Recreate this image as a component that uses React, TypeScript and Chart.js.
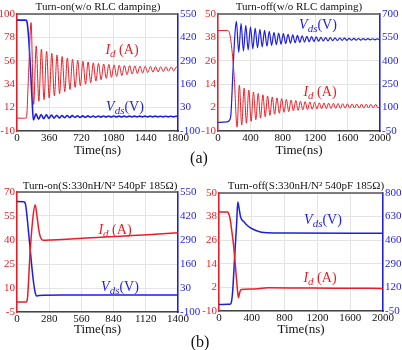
import React, { useEffect, useRef } from "react";
import { Chart, registerables } from "chart.js";

Chart.register(...registerables);

const RED = "rgb(232, 30, 38)";
const BLUE = "rgb(30, 30, 225)";
const SERIF = '"Liberation Serif", "Times New Roman", serif';

// ---------- (a) Turn-on, w/o RLC damping ----------
const onIdTime = [0, 60, 105, 130, 157, 186, 215, 244, 273, 302, 331, 360, 389, 418, 447, 476, 505, 534, 563, 592, 621, 650, 679, 708, 737, 766, 795, 824, 853, 882, 911, 940, 969, 998, 1027, 1056, 1085, 1114, 1143, 1172, 1201, 1230, 1259, 1288, 1317, 1346, 1375, 1404, 1433, 1462, 1491, 1520, 1549, 1578, 1607, 1636, 1665, 1694, 1723, 1752, 1781, 1800];
const onIdAmp = [2.2, 2.0, 2.2, 45, 92, 15, 70, 18, 67, 19.5, 65, 21, 63, 23, 61.5, 25, 60, 27, 58.7, 29, 57.5, 31, 56.5, 32.5, 55.6, 34, 54.8, 35.5, 54.1, 37, 53.5, 38.3, 53, 39.5, 52.6, 40.5, 52.2, 41.4, 51.9, 42.2, 51.6, 42.9, 51.4, 43.5, 51.2, 44, 51, 44.5, 50.8, 44.9, 50.7, 45.3, 50.6, 45.6, 50.5, 45.9, 50.4, 46.2, 50.3, 46.4, 50.2, 48];
const onVdsTime = [0, 100, 110, 130, 150, 170, 183, 212, 241, 270, 299, 328, 357, 386, 415, 444, 473, 502, 531, 560, 589, 618, 647, 676, 705, 734, 763, 792, 821, 850, 879, 908, 937, 966, 995, 1024, 1053, 1082, 1111, 1140, 1169, 1198, 1227, 1256, 1285, 1314, 1343, 1372, 1401, 1430, 1459, 1488, 1517, 1546, 1575, 1604, 1633, 1662, 1691, 1720, 1749, 1778, 1800];
const onVdsVolt = [516, 516, 510, 420, 250, 60, -39, -5, -35, -8, -32, -10, -30, -11.5, -28.5, -12.5, -27.3, -13.5, -26.3, -14.2, -25.5, -14.8, -24.8, -15.3, -24.2, -15.7, -23.7, -16, -23.3, -16.3, -23, -16.5, -22.7, -16.7, -22.5, -16.9, -22.3, -17, -22.1, -17.1, -22, -17.2, -21.9, -17.3, -21.8, -17.4, -21.7, -17.5, -21.6, -17.5, -21.5, -17.6, -21.5, -17.6, -21.4, -17.7, -21.4, -17.7, -21.3, -17.8, -21.3, -17.8, -19.5];

// ---------- (a) Turn-off, w/o RLC damping ----------
const offIdTime = [0, 120, 140, 160, 200, 235, 264, 293, 322, 351, 380, 409, 438, 467, 496, 525, 554, 583, 612, 641, 670, 699, 728, 757, 786, 815, 844, 873, 902, 931, 960, 989, 1018, 1047, 1076, 1105, 1134, 1163, 1192, 1221, 1250, 1279, 1308, 1337, 1366, 1395, 1424, 1453, 1482, 1511, 1540, 1569, 1598, 1627, 1656, 1685, 1714, 1743, 1772, 1801, 1830, 1859, 1888, 1917, 1946, 1975, 2000];
const offIdAmp = [41.5, 41.5, 40.5, 36, 18, -8, 13.5, -7, 12, -6, 11, -5, 10, -4.2, 9.3, -3.4, 8.6, -2.7, 8, -2, 7.5, -1.4, 7, -0.9, 6.6, -0.4, 6.2, 0, 5.9, 0.3, 5.6, 0.6, 5.3, 0.8, 5.1, 1, 4.9, 1.15, 4.7, 1.3, 4.5, 1.4, 4.4, 1.5, 4.3, 1.55, 4.2, 1.6, 4.1, 1.65, 4.0, 1.7, 3.95, 1.72, 3.9, 1.75, 3.85, 1.77, 3.8, 1.8, 3.75, 1.8, 3.7, 1.8, 3.7, 1.8, 2.8];
const offVdsTime = [0, 110, 140, 160, 185, 210, 227, 256, 285, 314, 343, 372, 401, 430, 459, 488, 517, 546, 575, 604, 633, 662, 691, 720, 749, 778, 807, 836, 865, 894, 923, 952, 981, 1010, 1039, 1068, 1097, 1126, 1155, 1184, 1213, 1242, 1271, 1300, 1329, 1358, 1387, 1416, 1445, 1474, 1503, 1532, 1561, 1590, 1619, 1648, 1677, 1706, 1735, 1764, 1793, 1822, 1851, 1880, 1909, 1938, 1967, 1996, 2000];
const offVdsVolt = [5, 8, 18, 60, 336, 580, 653, 454, 640, 462, 628, 470, 618, 477, 610, 483, 602, 489, 595, 494, 589, 499, 583, 503, 578, 507, 574, 510, 570, 513, 566, 516, 563, 518, 560, 520, 557, 522, 555, 524, 553, 525.5, 551, 527, 549, 528, 548, 529, 547, 530, 546, 531, 545, 531.5, 544, 532, 543.5, 532.5, 543, 533, 542.5, 533.5, 542, 534, 541.5, 534.5, 541, 534.5, 535];

// ---------- (b) Turn-on, with snubber ----------
const snOnIdTime = [0, 80, 90, 115, 140, 158, 172, 190, 205, 227, 300, 500, 700, 900, 1100, 1300, 1400];
const snOnIdAmp = [1.2, 1.2, 3, 33.7, 55, 62, 56, 46, 41.5, 39.8, 40, 40.8, 41.6, 42.4, 43.2, 44, 44.5];
const snOnVdsTime = [0, 60, 75, 90, 115, 140, 160, 172, 190, 400, 800, 1400];
const snOnVdsVolt = [498, 497, 480, 400, 236, 80, 0, -14, -10, -8, -8, -8];

// ---------- (b) Turn-off, with snubber ----------
const snOffIdTime = [0, 100, 115, 135, 155, 176, 200, 220, 237, 250, 270, 400, 600, 1000, 1400, 2000];
const snOffIdAmp = [40.3, 40.3, 39.8, 37, 31, 24, 13, 3, -3.3, -1, 0.9, 1.2, 1.8, 1.7, 1.6, 1.5];
const snOffVdsTime = [0, 130, 145, 165, 190, 215, 229, 245, 262, 278, 298, 330, 380, 450, 520, 600, 800, 2000];
const snOffVdsVolt = [-3, -1, 3, 80, 330, 580, 735, 690, 630, 608, 596, 575, 550, 530, 518, 514, 512, 510];

type Spec = {
  key: string;
  left: number; top: number; w: number; h: number;
  padTop: number; leftW: number; rightW: number; xH: number; titlePad: number;
  xMax: number; xStep: number;
  lMin: number; lMax: number; lStep: number;
  rMin: number; rMax: number; rStep: number;
  idT: number[]; idV: number[]; vT: number[]; vV: number[];
  idW: number; vW: number;
};

const panels: Spec[] = [
  { key: "a1", left: 0, top: 0, w: 200, h: 160, padTop: 14, leftW: 17, rightW: 22, xH: 29, titlePad: 2,
    xMax: 1800, xStep: 360, lMin: -10, lMax: 100, lStep: 22, rMin: -100, rMax: 550, rStep: 130,
    idT: onIdTime, idV: onIdAmp, vT: onVdsTime, vV: onVdsVolt, idW: 1, vW: 1.6 },
  { key: "a2", left: 200, top: 0, w: 202, h: 160, padTop: 14, leftW: 18, rightW: 22, xH: 29, titlePad: 2,
    xMax: 2000, xStep: 400, lMin: -10, lMax: 50, lStep: 12, rMin: -50, rMax: 700, rStep: 150,
    idT: offIdTime, idV: offIdAmp, vT: offVdsTime, vV: offVdsVolt, idW: 1, vW: 1.2 },
  { key: "b1", left: 0, top: 170, w: 200, h: 170, padTop: 22, leftW: 17, rightW: 22, xH: 28, titlePad: 3,
    xMax: 1400, xStep: 280, lMin: -5, lMax: 70, lStep: 15, rMin: -100, rMax: 550, rStep: 130,
    idT: snOnIdTime, idV: snOnIdAmp, vT: snOnVdsTime, vV: snOnVdsVolt, idW: 1.5, vW: 1.5 },
  { key: "b2", left: 200, top: 170, w: 202, h: 170, padTop: 23, leftW: 19, rightW: 19, xH: 29, titlePad: 3,
    xMax: 2000, xStep: 400, lMin: -10, lMax: 50, lStep: 12, rMin: -50, rMax: 800, rStep: 170,
    idT: snOffIdTime, idV: snOffIdAmp, vT: snOffVdsTime, vV: snOffVdsVolt, idW: 1.5, vW: 1.5 },
];

const framePlugin = {
  id: "frameTop",
  afterDraw(chart: any) {
    const { ctx, chartArea } = chart;
    const { left, right, top, bottom } = chartArea;
    ctx.save();
    ctx.strokeStyle = "#555";
    ctx.lineWidth = 1.5;
    ctx.beginPath();
    ctx.moveTo(left, top);
    ctx.lineTo(right, top);
    ctx.stroke();
    ctx.restore();
  },
};

function PanelChart({ spec }: { spec: Spec }) {
  const ref = useRef<HTMLCanvasElement>(null);
  useEffect(() => {
    const canvas = ref.current;
    if (!canvas) return;
    const pts = (xs: number[], ys: number[]) => xs.map((x, i) => ({ x, y: ys[i] }));
    const tickFont = { size: 11, family: SERIF };
    const chart = new Chart(canvas, {
      type: "line",
      data: {
        datasets: [
          {
            label: "Id",
            data: pts(spec.idT, spec.idV),
            yAxisID: "yL",
            borderColor: RED,
            borderWidth: spec.idW,
            pointRadius: 0,
            cubicInterpolationMode: "monotone",
            fill: false,
          },
          {
            label: "Vds",
            data: pts(spec.vT, spec.vV),
            yAxisID: "yR",
            borderColor: BLUE,
            borderWidth: spec.vW,
            pointRadius: 0,
            cubicInterpolationMode: "monotone",
            fill: false,
          },
        ],
      },
      options: {
        animation: false,
        responsive: false,
        maintainAspectRatio: false,
        layout: { padding: { top: spec.padTop, left: 0, right: 0, bottom: 0 } },
        plugins: { legend: { display: false }, tooltip: { enabled: false }, title: { display: false } },
        scales: {
          x: {
            type: "linear",
            position: "bottom",
            min: 0,
            max: spec.xMax,
            ticks: {
              stepSize: spec.xStep,
              autoSkip: false,
              maxRotation: 0,
              color: "#111",
              font: tickFont,
              padding: 1,
              callback: (v: any) => String(v),
            },
            grid: { color: "#e4e4e4", drawTicks: false },
            border: { color: "#444", width: 1.5 },
            title: {
              display: true,
              text: "Time(ns)",
              color: "#111",
              font: { size: 13, family: SERIF },
              padding: { top: 0, bottom: spec.titlePad },
            },
            afterFit: (s: any) => {
              s.height = spec.xH;
            },
          },
          yL: {
            type: "linear",
            position: "left",
            min: spec.lMin,
            max: spec.lMax,
            ticks: { stepSize: spec.lStep, color: RED, font: tickFont, padding: 2, callback: (v: any) => String(v) },
            grid: { color: "#e4e4e4", drawTicks: false },
            border: { color: RED, width: 1.5 },
            afterFit: (s: any) => {
              s.width = spec.leftW;
            },
          },
          yR: {
            type: "linear",
            position: "right",
            min: spec.rMin,
            max: spec.rMax,
            ticks: { stepSize: spec.rStep, color: BLUE, font: tickFont, padding: 2, callback: (v: any) => String(v) },
            grid: { display: false, drawTicks: false },
            border: { color: BLUE, width: 1.5 },
            afterFit: (s: any) => {
              s.width = spec.rightW;
            },
          },
        },
      } as any,
      plugins: [framePlugin],
    });
    return () => chart.destroy();
  }, [spec]);
  return (
    <canvas
      ref={ref}
      width={spec.w}
      height={spec.h}
      style={{ position: "absolute", left: spec.left, top: spec.top, width: spec.w, height: spec.h }}
    />
  );
}

function Ann({ x, y, color, main, sub, unit }: { x: number; y: number; color: string; main: string; sub: string; unit: string }) {
  return (
    <div
      style={{
        position: "absolute",
        left: x,
        top: y,
        transform: "translate(-50%, -50%)",
        color,
        fontSize: 14,
        fontFamily: SERIF,
        whiteSpace: "nowrap",
        lineHeight: 1,
      }}
    >
      <i>{main}</i>
      <i style={{ fontSize: 11, position: "relative", top: 3 }}>{sub}</i>
      {unit}
    </div>
  );
}

function Title({ x, y, text }: { x: number; y: number; text: string }) {
  return (
    <div
      style={{
        position: "absolute",
        left: x,
        top: y,
        transform: "translate(-50%, -50%)",
        fontSize: 11,
        fontFamily: SERIF,
        color: "#111",
        whiteSpace: "nowrap",
        lineHeight: 1,
      }}
    >
      {text}
    </div>
  );
}

export default function App() {
  return (
    <div
      style={{
        position: "absolute",
        left: 0,
        top: 0,
        width: 402,
        height: 350,
        background: "#fff",
        overflow: "hidden",
        fontFamily: SERIF,
      }}
    >
      {panels.map((p) => (
        <PanelChart key={p.key} spec={p} />
      ))}
      <Title x={98} y={6} text="Turn-on(w/o RLC damping)" />
      <Title x={299} y={6} text="Turn-off(w/o RLC damping)" />
      <Title x={100} y={185} text="Turn-on(S:330nH/N² 540pF 185Ω)" />
      <Title x={306} y={185} text="Turn-off(S:330nH/N²  540pF 185Ω)" />

      <Ann x={122} y={50} color={RED} main="I" sub="d" unit=" (A)" />
      <Ann x={125} y={107} color={BLUE} main="V" sub="ds" unit="(V)" />
      <Ann x={318} y={25} color={BLUE} main="V" sub="ds" unit="(V)" />
      <Ann x={320} y={92} color={RED} main="I" sub="d" unit=" (A)" />
      <Ann x={115} y={230} color={RED} main="I" sub="d" unit=" (A)" />
      <Ann x={120} y={287} color={BLUE} main="V" sub="ds" unit="(V)" />
      <Ann x={323} y={220} color={BLUE} main="V" sub="ds" unit="(V)" />
      <Ann x={320} y={278} color={RED} main="I" sub="d" unit=" (A)" />

      <div style={{ position: "absolute", left: 199, top: 158, transform: "translate(-50%, -50%)", fontSize: 16, fontFamily: SERIF, color: "#111", lineHeight: 1 }}>(a)</div>
      <div style={{ position: "absolute", left: 200, top: 342, transform: "translate(-50%, -50%)", fontSize: 16, fontFamily: SERIF, color: "#111", lineHeight: 1 }}>(b)</div>
    </div>
  );
}
